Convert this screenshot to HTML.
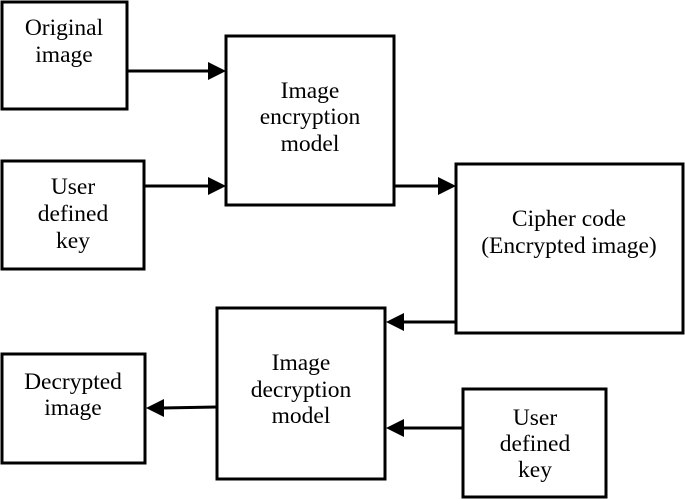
<!DOCTYPE html>
<html><head><style>
html,body{margin:0;padding:0;background:#fff;}
svg{display:block;}
text{font-family:"Liberation Serif",serif;font-size:23.5px;fill:#000;text-anchor:middle;}
</style></head><body>
<svg width="685" height="499" viewBox="0 0 685 499" xmlns="http://www.w3.org/2000/svg">
<g fill="none" stroke="#000" stroke-width="3">
<rect x="2" y="2" width="125" height="107"/>
<rect x="226" y="36" width="168" height="169"/>
<rect x="2" y="161" width="142" height="108"/>
<rect x="456" y="164" width="227" height="169"/>
<rect x="217" y="308" width="168" height="171"/>
<rect x="2" y="354" width="143" height="109"/>
<rect x="463" y="389" width="143" height="108"/>
<line x1="127" y1="71" x2="210" y2="71"/>
<line x1="144" y1="186" x2="210" y2="186"/>
<line x1="394" y1="186" x2="440" y2="186"/>
<line x1="456" y1="322" x2="402" y2="322"/>
<line x1="217" y1="407" x2="162" y2="408"/>
<line x1="463" y1="428" x2="402" y2="428"/>
</g>
<g fill="#000">
<polygon points="226,71 208,62 208,80"/>
<polygon points="226,186 208,177 208,195"/>
<polygon points="456,186 438,177 438,195"/>
<polygon points="386,322 404,313 404,331"/>
<polygon points="146,408 164,399 164,417"/>
<polygon points="386,428 404,419 404,437"/>
</g>
<text x="64" y="35">Original</text>
<text x="64" y="62">image</text>
<text x="310" y="98">Image</text>
<text x="310" y="124">encryption</text>
<text x="310" y="151">model</text>
<text x="73" y="194">User</text>
<text x="73" y="221">defined</text>
<text x="73" y="248">key</text>
<text x="569" y="226">Cipher code</text>
<text x="569" y="253">(Encrypted image)</text>
<text x="301" y="370">Image</text>
<text x="301" y="397">decryption</text>
<text x="301" y="423">model</text>
<text x="73" y="389">Decrypted</text>
<text x="73" y="415">image</text>
<text x="535" y="425">User</text>
<text x="535" y="451">defined</text>
<text x="535" y="477">key</text>
</svg>
</body></html>
